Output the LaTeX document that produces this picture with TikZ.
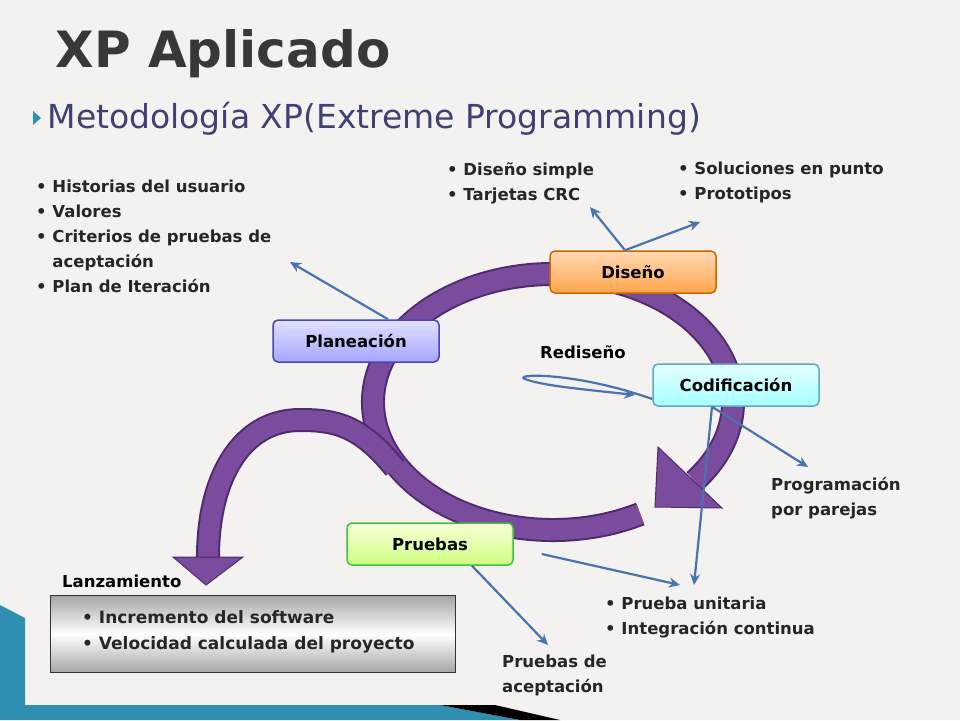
\documentclass[tikz,border=0pt]{standalone}
\usepackage{fontspec}
\setmainfont{DejaVu Sans}
\usetikzlibrary{arrows.meta}
\definecolor{bg}{HTML}{F3F2F0}
\definecolor{purp}{HTML}{7B4C9E}
\definecolor{purpd}{HTML}{4E2A6E}
\definecolor{conn}{HTML}{4A72B0}
\definecolor{teal}{HTML}{2E8FB0}
\tikzset{
 stage/.style={draw, rounded corners=5pt, line width=1.5pt, minimum width=166pt, minimum height=42pt, font=\bfseries\fontsize{16.5}{18}\selectfont},
 lst/.style={anchor=north west, align=left, font=\bfseries\fontsize{16.5}{25}\selectfont, inner sep=0pt, text=black!85},
 con/.style={conn, line width=2.2pt, -{Stealth[length=11pt,width=10pt]}},
 ring/.style={purpd, line width=24pt},
 ringin/.style={purp, line width=20pt},
}
\newcommand{\bul}{\textbullet\ }
\begin{document}
\begin{tikzpicture}[x=1pt,y=-1pt]
\fill[bg] (0,0) rectangle (960,720);
\useasboundingbox (0,0) rectangle (960,720);
% decoration
\fill[teal] (0,605) -- (25,618) -- (25,705) -- (440,705) -- (520,720) -- (0,720) -- cycle;
\fill[black] (440,705) -- (495,705) -- (560,720) -- (520,720) -- cycle;
% title
\node[anchor=west, text=black!78, font=\bfseries\fontsize{50}{56}\selectfont] (title) at (52,54) {XP Aplicado};
\fill[teal] (33,111) -- (41,118) -- (33,125) -- cycle;
\node[anchor=west, text=black!60!blue!50!gray, font=\fontsize{33}{36}\selectfont] (sub) at (44,119) {Metodología XP(Extreme Programming)};
% ring
\draw[ring] ([shift={(61:180 and 128)}]553,402) arc[start angle=61, end angle=398, x radius=180, y radius=128];
\draw[ringin] ([shift={(61:180 and 128)}]553,402) arc[start angle=61, end angle=398, x radius=180, y radius=128];
\filldraw[fill=purp, draw=purpd, line width=1pt] (658,447) -- (722,508) -- (655,507) -- cycle;
% release arrow
\draw[ring] (395,468) .. controls (360,425) and (335,420) .. (300,420) .. controls (240,420) and (208,480) .. (208,557);
\draw[ringin] (395,468) .. controls (360,425) and (335,420) .. (300,420) .. controls (240,420) and (208,480) .. (208,557);
\filldraw[fill=purp, draw=purpd, line width=1pt] (173,557) -- (243,557) -- (206,585) -- cycle;
% stages
\node[stage, draw=orange!80!black, top color=orange!30, bottom color=orange!70] (dis) at (633,272) {Diseño};
\node[stage, draw=blue!45!gray, top color=blue!12, bottom color=blue!35] (pla) at (356,341) {Planeación};
\node[stage, draw=cyan!55!gray, top color=cyan!10, bottom color=cyan!35] (cod) at (736,385) {Codificación};
\node[stage, draw=green!50!gray, top color=green!12!yellow!15, bottom color=green!40!yellow!50] (pru) at (430,544) {Pruebas};
\node[draw=black!80, line width=1.5pt, minimum width=405pt, minimum height=77pt, top color=black!35, bottom color=black!35, middle color=white, shading angle=0] (lan) at (253,634) {};
\node[lst, font=\bfseries\fontsize{17}{26}\selectfont] (lant) at (82,610) {\bul Incremento del software\\\bul Velocidad calculada del proyecto};
\node[anchor=west, font=\bfseries\fontsize{16.5}{18}\selectfont, inner sep=0pt] (lanl) at (62,581) {Lanzamiento};
% lists
\node[lst] (l1) at (36,180) {\bul Historias del usuario\\\bul Valores\\\bul Criterios de pruebas de\\\phantom{\bul}aceptación\\\bul Plan de Iteración};
\node[lst] (l2) at (447,162) {\bul Diseño simple\\\bul Tarjetas CRC};
\node[lst] (l3) at (678,162) {\bul Soluciones en punto\\\bul Prototipos};
\node[anchor=west, font=\bfseries\fontsize{16.5}{18}\selectfont, inner sep=0pt] (red) at (540,352) {Rediseño};
\node[lst] (l4) at (771,477) {Programación\\por parejas};
\node[lst] (l5) at (605,597) {\bul Prueba unitaria\\\bul Integración continua};
\node[lst] (l6) at (502,655) {Pruebas de\\aceptación};
% connectors
\coordinate (p1) at (290,262);
\coordinate (d1) at (590,207);
\coordinate (d2) at (700,222);
\coordinate (c1) at (808,467);
\coordinate (c2) at (694,585);
\coordinate (u1) at (680,585);
\coordinate (u2) at (548,645);
\coordinate (r1) at (635,395);
\draw[con] ([xshift=32pt]pla.north) -- (p1);
\draw[con] ([xshift=-8pt]dis.north) -- (d1);
\draw[con] ([xshift=-8pt]dis.north) -- (d2);
\draw[con] ([xshift=-24pt]cod.south) -- (c1);
\draw[con] ([xshift=-24pt]cod.south) -- (c2);
\draw[con] ([xshift=28pt,yshift=-10pt]pru.east) -- (u1);
\draw[con] ([xshift=42pt]pru.south) -- (u2);
\draw[con] ([yshift=-14pt]cod.west) .. controls (570,370) and (505,374) .. (528,380) .. controls (545,386) and (590,390) .. (r1);
\end{tikzpicture}
\end{document}
